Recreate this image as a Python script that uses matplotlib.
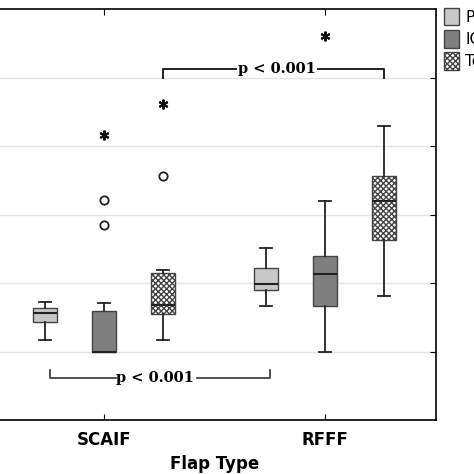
import matplotlib.pyplot as plt
import matplotlib.patches as mpatches

groups = ["SCAIF", "RFFF"]
series = ["Perforator", "IC", "Total"]
# per box: (whislo, q1, med, q3, whishi)
stats_vals = [
    (1.17, 1.43, 1.56, 1.63, 1.72),
    (1.00, 1.00, 1.00, 1.59, 1.71),
    (1.17, 1.55, 1.68, 2.15, 2.19),
    (1.66, 1.90, 1.99, 2.22, 2.51),
    (1.00, 1.66, 2.13, 2.39, 3.20),
    (1.81, 2.63, 3.20, 3.56, 4.29),
]
circles = [[], [3.21, 2.85], [3.56], [], [], []]
stars = [[], [4.16], [4.61], [], [5.60], []]

positions = [45, 104, 163, 266, 325, 384]
colors = ["#c8c8c8", "#7f7f7f", "white"]
hatches = [None, None, "xxxxxx"]

fig = plt.figure(figsize=(4.74, 4.74), dpi=100)
ax = fig.add_axes([-7 / 474, 54 / 474, 443 / 474, 411 / 474])
ax.set_xlim(-7, 436)
ax.set_ylim(0, 6)

for y in [1, 2, 3, 4, 5]:
    ax.axhline(y, color="#e4e4e4", lw=1, zorder=0)

stats = []
for v in stats_vals:
    stats.append(dict(whislo=v[0], q1=v[1], med=v[2], q3=v[3], whishi=v[4], fliers=[]))
bp = ax.bxp(stats, positions=positions, widths=24, patch_artist=True,
            showfliers=False, manage_ticks=False,
            medianprops=dict(color="#222222", lw=1.5),
            whiskerprops=dict(color="#222222", lw=1.3),
            capprops=dict(color="#222222", lw=1.3),
            boxprops=dict(edgecolor="#444444", lw=1))
for i, box in enumerate(bp["boxes"]):
    box.set_facecolor(colors[i % 3])
    if hatches[i % 3]:
        box.set_hatch(hatches[i % 3])
for i, p in enumerate(positions):
    for c in circles[i]:
        ax.plot(p, c, "o", mfc="white", mec="#222222", ms=6, mew=1.3)
    for s in stars[i]:
        ax.plot(p, s, marker=(6, 2, 0), color="#111111", ms=7, mew=1.5)

# significance brackets
ax.plot([50, 50, 116], [0.73, 0.61, 0.61], color="#333333", lw=1.2)
ax.plot([197, 270, 270], [0.61, 0.61, 0.73], color="#333333", lw=1.2)
ax.text(155, 0.61, "p < 0.001", ha="center", va="center", family="serif",
        fontweight="bold", fontsize=10.5)
ax.plot([163, 163, 236], [4.99, 5.12, 5.12], color="#222222", lw=1.4)
ax.plot([318, 384, 384], [5.12, 5.12, 4.99], color="#222222", lw=1.4)
ax.text(277, 5.12, "p < 0.001", ha="center", va="center", family="serif",
        fontweight="bold", fontsize=10.5)

ax.set_xticks([104, 325])
ax.set_xticklabels(groups, fontweight="bold", fontsize=12)
ax.set_yticks([1, 2, 3, 4, 5])
ax.set_yticklabels([])
ax.tick_params(axis="y", right=True, left=False, direction="in", length=4)
ax.tick_params(axis="x", top=True, direction="in", length=4, pad=8)
ax.set_xlabel("Flap Type", fontweight="bold", fontsize=12, labelpad=4)
for sp in ax.spines.values():
    sp.set_linewidth(1.2)

handles = [mpatches.Patch(facecolor=colors[i], edgecolor="#444444", hatch=hatches[i],
                          label=series[i]) for i in range(3)]
fig.legend(handles=handles, loc="upper left", bbox_to_anchor=(436 / 474, 1.0),
           frameon=False, fontsize=11, handlelength=1.0, handleheight=1.4,
           borderaxespad=0.1, labelspacing=0.3, handletextpad=0.4)

fig.savefig("out.png", dpi=100)
